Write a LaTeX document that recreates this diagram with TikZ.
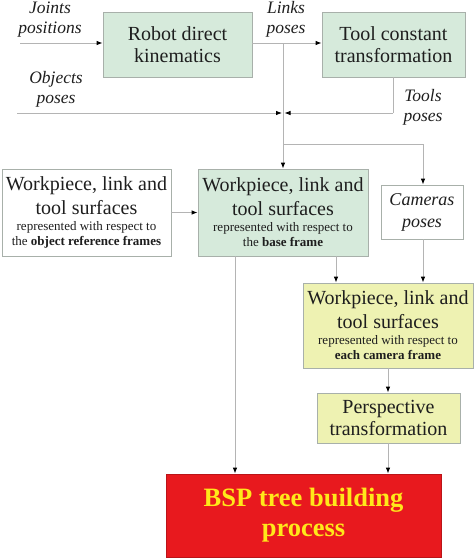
\documentclass[tikz,border=0pt]{standalone}
\usepackage{fontspec}
\setmainfont{Liberation Serif}
\usetikzlibrary{arrows.meta}
\definecolor{boxgray}{HTML}{A8B0AA}
\definecolor{linegray}{HTML}{B4B4B4}
\definecolor{greenfill}{HTML}{D6EADB}
\definecolor{yellowfill}{HTML}{EEF2B2}
\definecolor{redfill}{HTML}{E8191E}
\definecolor{bsptext}{HTML}{FFE81A}
\definecolor{txt}{HTML}{1E1E1E}
\newcommand{\surftext}[2]{\parbox{168pt}{\centering
  \fontsize{20}{24}\selectfont Workpiece, link and\\tool surfaces\par
  \vspace{1pt}\fontsize{13}{15}\selectfont represented with respect to\\#1\textbf{#2}\par}}
\tikzset{
  blk/.style={draw=boxgray, line width=0.8pt, align=center, inner sep=0pt, text=txt},
  greenblk/.style={blk, fill=greenfill},
  yellowblk/.style={blk, fill=yellowfill},
  whiteblk/.style={blk, fill=white},
  lbl/.style={align=center, inner sep=0pt, text=txt, font=\itshape\fontsize{17.5}{20}\selectfont},
  conn/.style={draw=linegray, line width=0.8pt, -{Latex[length=6pt,width=4.5pt,color=black]}},
  plain/.style={draw=linegray, line width=0.8pt},
}
\begin{document}
\begin{tikzpicture}[x=1pt,y=-1pt]
\useasboundingbox (0,0) rectangle (474,558);
% boxes
\node[greenblk, minimum width=149pt, minimum height=65pt, font=\fontsize{20}{21.5}\selectfont] (robot) at (177.5,44.5) {Robot direct\\kinematics};
\node[greenblk, minimum width=143pt, minimum height=65pt, font=\fontsize{20}{21.5}\selectfont] (tool) at (393.5,44.5) {Tool constant\\transformation};
\node[whiteblk, minimum width=169pt, minimum height=87pt] (wpobj) at (86.5,212.5)
  {\surftext{the }{object reference frames}};
\node[greenblk, minimum width=170pt, minimum height=87pt] (wpbase) at (283,212.5)
  {\surftext{the }{base frame}};
\node[whiteblk, minimum width=82pt, minimum height=54pt, font=\itshape\fontsize{18}{22}\selectfont] (cams) at (422,212) {Cameras\\poses};
\node[yellowblk, minimum width=170pt, minimum height=85pt] (wpcam) at (388,325.5)
  {\surftext{}{each camera frame}};
\node[yellowblk, minimum width=143pt, minimum height=50pt, font=\fontsize{20}{21.5}\selectfont] (persp) at (388.5,418) {Perspective\\transformation};
\node[blk, draw=redfill!80!black, fill=redfill, minimum width=275pt, minimum height=83pt, text=bsptext, font=\bfseries\fontsize{26.5}{30}\selectfont] (bsp) at (303.5,515.5) {BSP tree building\\process};
% labels
\node[lbl] (ljoints) at (50,19.5) {Joints\\positions};
\node[lbl] (llinks) at (286,19) {Links\\poses};
\node[lbl] (lobjects) at (56,89) {Objects\\poses};
\node[lbl] (ltools) at (423,107) {Tools\\poses};
% coordinates
\coordinate (jstart) at (20,43);
\coordinate (jl) at (283,43);
\coordinate (ostart) at (17,113);
\coordinate (omeet) at (282,113);
\coordinate (tmeet) at (284.5,113);
\coordinate (tcorner) at (393,113);
\coordinate (bsplit) at (283,144);
\coordinate (bcorner) at (423,144);
% connectors
\draw[conn] (jstart) -- (robot.west |- jstart);
\draw[conn] (robot.east |- jl) -- (tool.west |- jl);
\draw[conn] (jl) -- (wpbase.north);
\draw[conn] (ostart) -- (omeet);
\draw[plain] (tool.south -| tcorner) -- (tcorner);
\draw[conn] (tcorner) -- (tmeet);
\draw[plain] (bsplit) -- (bcorner);
\draw[conn] (bcorner) -- (cams.north -| bcorner);
\draw[conn] (wpobj.east) -- (wpbase.west);
\draw[conn] (wpbase.south -| 235,0) -- (bsp.north -| 235,0);
\draw[conn] (wpbase.south -| 336,0) -- (wpcam.north -| 336,0);
\draw[conn] (cams.south -| 423,0) -- (wpcam.north -| 423,0);
\draw[conn] (wpcam.south -| 388,0) -- (persp.north -| 388,0);
\draw[conn] (persp.south -| 388,0) -- (bsp.north -| 388,0);
\end{tikzpicture}
\end{document}
